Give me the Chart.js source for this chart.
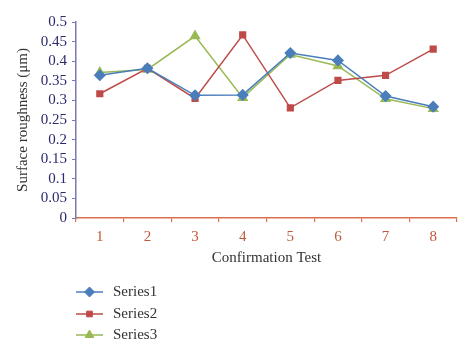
<!DOCTYPE html>
<html><head><meta charset="utf-8">
<script src="https://cdn.jsdelivr.net/npm/chart.js@4/dist/chart.umd.min.js"></script>
<style>html,body{margin:0;padding:0;background:#fff}#wrap{width:474px;height:357px}</style>
</head><body><div id="wrap"><canvas id="c" width="474" height="357"></canvas></div>
<script>
const categories = ['1','2','3','4','5','6','7','8'];
const series1 = [0.364, 0.382, 0.313, 0.314, 0.421, 0.402, 0.311, 0.284];
const series2 = [0.317, 0.382, 0.305, 0.467, 0.281, 0.351, 0.364, 0.431];
const series3 = [0.371, 0.379, 0.464, 0.307, 0.417, 0.388, 0.304, 0.279];
const yTickLabels = ['0','0.05','0.1','0.15','0.2','0.25','0.3','0.35','0.4','0.45','0.5'];
const seriesNames = ['Series1','Series2','Series3'];

const FONT = '"Liberation Serif", "DejaVu Serif", serif';

const legendPlugin = {
  id: 'vlegend',
  afterDraw(chart) {
    const ctx = chart.ctx;
    const x0 = 76, x1 = 103, tx = 113;
    const ys = [292, 314, 335];
    chart.data.datasets.forEach((ds, i) => {
      const y = ys[i];
      ctx.save();
      ctx.strokeStyle = ds.borderColor;
      ctx.lineWidth = 1.5;
      ctx.beginPath(); ctx.moveTo(x0, y); ctx.lineTo(x1, y); ctx.stroke();
      ctx.fillStyle = ds.pointBackgroundColor;
      ctx.strokeStyle = ds.borderColor;
      ctx.lineWidth = 1;
      Chart.helpers.drawPoint(ctx, {pointStyle: ds.pointStyle, radius: ds.pointRadius, borderWidth: 1}, (x0 + x1) / 2, y);
      ctx.fillStyle = '#333333';
      ctx.font = '15px ' + FONT;
      ctx.textBaseline = 'middle';
      ctx.textAlign = 'left';
      ctx.fillText(ds.label, tx, y);
      ctx.restore();
    });
  }
};

const mk = (label, data, color, style, r) => ({
  label, data, borderColor: color, backgroundColor: color,
  pointBackgroundColor: color, pointBorderColor: color,
  pointStyle: style, pointRadius: r, pointHoverRadius: r,
  borderWidth: 1.5, tension: 0, fill: false
});

new Chart(document.getElementById('c'), {
  type: 'line',
  data: {
    labels: categories,
    datasets: [
      mk(seriesNames[0], series1, '#4a7ebb', 'rectRot', 5),
      mk(seriesNames[1], series2, '#be4b48', 'rect', 4),
      mk(seriesNames[2], series3, '#98b954', 'triangle', 5)
    ]
  },
  options: {
    responsive: false,
    animation: false,
    events: [],
    layout: {padding: {left: 14, right: 17, top: 22, bottom: 86}},
    plugins: {legend: {display: false}, tooltip: {enabled: false}},
    scales: {
      x: {
        offset: true,
        grid: {display: true, drawOnChartArea: false, offset: true, tickLength: 4, color: '#d9704a', lineWidth: 1.2},
        border: {display: true, color: '#d9704a', width: 1.5},
        ticks: {color: '#c0583a', font: {family: FONT, size: 15}, padding: 6, maxRotation: 0},
        title: {display: true, text: 'Confirmation Test', color: '#333333', font: {family: FONT, size: 15}, padding: {top: 2, bottom: 4}},
        afterFit(s) { s.height = 53; }
      },
      y: {
        min: 0, max: 0.5,
        ticks: {stepSize: 0.05, autoSkip: false, color: '#2b2a6e', font: {family: FONT, size: 15}, padding: 5,
          callback: (v, i) => yTickLabels[i]},
        grid: {display: true, drawOnChartArea: false, tickLength: 4, color: '#7b78b5'},
        border: {display: true, color: '#7b78b5', width: 1.5},
        title: {display: true, text: 'Surface roughness (μm)', color: '#333333', font: {family: FONT, size: 15}, padding: 0},
        afterFit(s) { s.width = 62; }
      }
    }
  },
  plugins: [legendPlugin]
});
</script></body></html>
